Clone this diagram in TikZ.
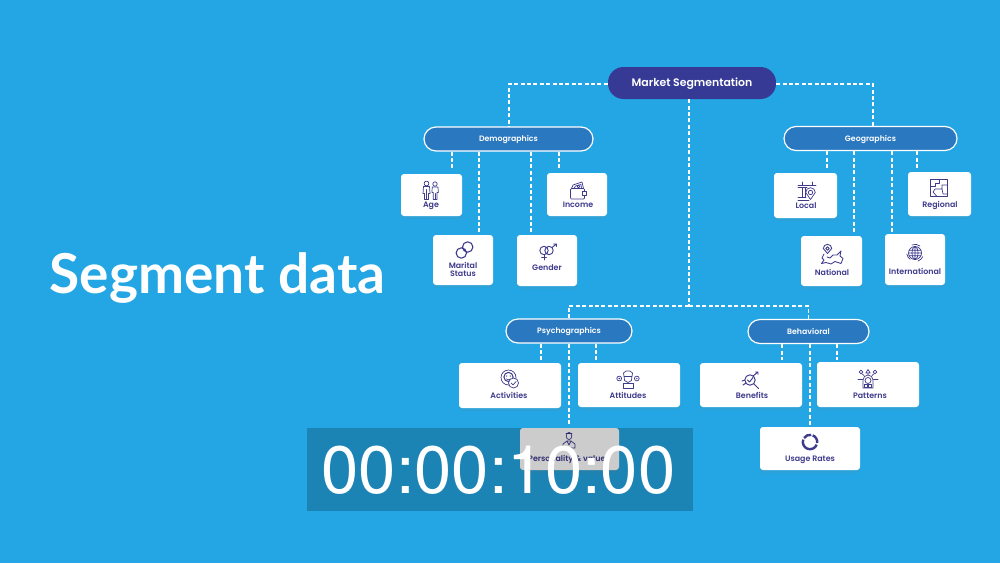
\documentclass[tikz,border=0pt]{standalone}
\usepackage{fontspec}
\usetikzlibrary{shadows}
\setmainfont{Poppins}[BoldFont=* SemiBold]
\setsansfont{TeX Gyre Heros}
\newfontfamily\headfont{Lato}[BoldFont=* Bold]
\definecolor{bgblue}{HTML}{23A6E3}
\definecolor{rootblue}{HTML}{373A95}
\definecolor{groupblue}{HTML}{2A78C0}
\definecolor{ink}{HTML}{3E3A8C}
\tikzset{
  x=1pt,y=-1pt,
  rootbox/.style={fill=rootblue,rounded corners=15.5pt,text=white,font=\bfseries\fontsize{10.9}{12}\selectfont,minimum height=32pt,inner sep=0pt,text height=7.6pt,text depth=0pt},
  groupbox/.style={fill=groupblue,draw=white,line width=1.2pt,rounded corners=12pt,text=white,font=\bfseries\fontsize{7.8}{9}\selectfont,minimum height=24pt,inner sep=0pt,text height=5.5pt,text depth=0pt},
  cardbox/.style={fill=white,rounded corners=3pt,inner sep=0pt,drop shadow={opacity=.1,shadow xshift=0pt,shadow yshift=-3pt}},
  cardtext/.style={text=ink,font=\bfseries\fontsize{7.9}{8.6}\selectfont,inner sep=0pt,text height=5.6pt,text depth=0pt},
  link/.style={draw=white,line width=1.25pt,dash pattern=on 4pt off 2.4pt},
  iconline/.style={draw=ink,line width=.7pt,line join=round,line cap=round},
}
\newcommand{\cardnode}[6]{\node[cardbox,minimum width=#4pt,minimum height=#5pt] (#1) at (#2,#3) {};\node[cardtext] (#1t) at (#6) }
\begin{document}
\begin{tikzpicture}
\useasboundingbox (0,0) rectangle (1000,563);
\fill[bgblue] (0,0) rectangle (1000,563);

% headline
\node[text=white,font=\headfont\bfseries\fontsize{55}{58}\selectfont,inner sep=0pt] (headline) at (217.5,278) {Segment data};

% hierarchy
\node[rootbox,minimum width=168pt] (root) at (692,83) {Market Segmentation};
\node[groupbox,minimum width=169pt] (dem) at (508.5,139) {Demographics};
\node[groupbox,minimum width=173pt] (geo) at (870.5,138.5) {Geographics};
\node[groupbox,minimum width=126pt] (psy) at (569,331) {Psychographics};
\node[groupbox,minimum width=121pt] (beh) at (808.5,331.5) {Behavioral};

% cards
\cardnode{age}{431.5}{195}{61}{42}{431,205} {Age};
\cardnode{inc}{577}{194.5}{60}{43}{578,205} {Income};
\cardnode{mar}{463}{260}{60}{50}{463,266} {Marital};
\node[cardtext] (mars) at (463,274) {Status};
\cardnode{gen}{547}{260.5}{60}{51}{547,268} {Gender};
\cardnode{loc}{805.5}{195.5}{63}{45}{806,206} {Local};
\cardnode{reg}{939.5}{194}{63}{44}{940,205} {Regional};
\cardnode{nat}{831.5}{261}{61}{50}{832,273} {National};
\cardnode{int}{915}{259.5}{60}{51}{915,272} {International};
\cardnode{act}{510}{385.5}{102}{45}{509,396} {Activities};
\cardnode{att}{629}{385}{102}{44}{628,396} {Attitudes};
\cardnode{per}{569.5}{449}{99}{42}{569,459} {Personality \& values};
\cardnode{ben}{751}{385}{102}{44}{752,396} {Benefits};
\cardnode{pat}{868}{384.5}{102}{45}{870,396} {Patterns};
\cardnode{usa}{810}{448.5}{100}{43}{810,459} {Usage Rates};

% connector ends
\coordinate (junc) at (689,306);
\coordinate (c1) at (452,170);\coordinate (c2) at (479,233);\coordinate (c3) at (531,233);\coordinate (c4) at (559,170);
\coordinate (g1) at (827,169);\coordinate (g2) at (854,233);\coordinate (g3) at (892,232);\coordinate (g4) at (917,169);
\coordinate (p1) at (541,362);\coordinate (p2) at (569,426);\coordinate (p3) at (596,362);
\coordinate (b1) at (782,360);\coordinate (b2) at (810,425);\coordinate (b3) at (837,360);
\coordinate (lx) at (509,84);\coordinate (rx) at (873,84);

\draw[link] (root.west |- lx) -- (lx) -- (lx |- dem.north);
\draw[link] (root.east |- rx) -- (rx) -- (rx |- geo.north);
\draw[link] (root.south -| junc) -- (junc);
\draw[link] (psy.north) |- (junc);
\draw[link] (beh.north) |- (junc);
\foreach \e in {c1,c2,c3,c4} \draw[link] (dem.south -| \e) -- (\e);
\foreach \e in {g1,g2,g3,g4} \draw[link] (geo.south -| \e) -- (\e);
\foreach \e in {p1,p2,p3} \draw[link] (psy.south -| \e) -- (\e);
\foreach \e in {b1,b2,b3} \draw[link] (beh.south -| \e) -- (\e);

% icons
\begin{scope}[shift={(431,190.5)},iconline] % age
  \draw (-4.5,-7) circle (2.4) (4,-6.5) circle (2.2);
  \draw (-8,3) -- (-7.5,-4) -- (-1.5,-4) -- (-1,3) -- (-2.5,3) -- (-2.5,9) -- (-6.5,9) -- (-6.5,3) -- cycle;
  \draw (1,2) -- (1.2,-3.5) -- (7,-3.5) -- (7.3,2) -- (6,2) -- (6,9) -- (2.2,9) -- (2.2,2) -- cycle;
  \draw (-4.5,-1) -- (-4.5,9) (4,3) -- (4,9);
\end{scope}
\begin{scope}[shift={(578,191)},iconline] % income
  \draw[rounded corners=1pt] (-7.5,-2.5) -- (-7.5,8) -- (6.5,8) -- (6.5,-2.5) -- cycle;
  \draw (-6.5,-2.5) -- (-5,-6) -- (4,-9) -- (5.5,-2.5);
  \draw (-4,-2.5) -- (-2.5,-5) -- (3,-6.5) -- (3.5,-2.5);
  \draw (0.5,-4.5) circle (1.4);
  \draw[fill=white] (4,0.5) rectangle (8.5,4.5);
\end{scope}
\begin{scope}[shift={(464.5,250)},iconline,line width=1.1pt] % marital
  \draw (-3.2,3) circle (5.2) (3.2,-3) circle (5.2);
\end{scope}
\begin{scope}[shift={(547.5,252)},iconline,line width=.9pt] % gender
  \draw (-3.5,-1.5) circle (4.2) (1.5,-1.5) circle (4.2);
  \draw (-3.5,2.7) -- (-3.5,8) (-6,5.5) -- (-1,5.5);
  \draw (4.5,-4.5) -- (9,-8) (6,-8) -- (9,-8) -- (9,-5.5);
\end{scope}
\begin{scope}[shift={(807,191)},iconline] % local
  \draw (-9,-6) -- (9,-6) (-9,-3.5) -- (0,-3.5) (-9,6.5) -- (-1,6.5) (-9,9) -- (2,9);
  \draw (-5,-9) -- (-5,-6) (5,-9) -- (5,-6) (-5,-3.5) -- (-5,6.5) (-2,-3.5) -- (-2,6.5);
  \draw[fill=white] (3.5,8.5) -- (-1.3,1.5) arc (180:360:4.8) -- cycle;
  \draw (3.5,1.5) circle (2.2);
\end{scope}
\begin{scope}[shift={(939,188)},iconline] % regional
  \draw (-8.5,-8.5) rectangle (8.5,8.5);
  \draw (-8.5,-2) -- (-4,-2) -- (-4,-5) -- (0,-5) -- (0,-8.5);
  \draw (8.5,-3) -- (3,-3) -- (3,1) -- (-4,1) -- (-6,4) -- (-2,8.5);
  \draw (3,1) -- (4,6) -- (8.5,6);
\end{scope}
\begin{scope}[shift={(832,255)},iconline,line width=.85pt] % national
  \draw (-4.5,-1.5) -- (-8.7,-6.5) arc (180:360:4.2) -- cycle;
  \draw (-4.5,-6.5) circle (1.8);
  \draw (-8,-1) -- (-10,3) -- (-8,5) -- (-10.5,8.5) -- (-6,7.5) -- (-1,9) -- (3,6.5) -- (9,8.5) -- (11,3.5) -- (8,1) -- (9,-4) -- (5,0) -- (1,0) -- (-2,3) -- (-5,2);
\end{scope}
\begin{scope}[shift={(915,253)},iconline] % international
  \draw (0,0) circle (6.5);
  \draw (0,0) ellipse (3 and 6.5) (-6.5,0) -- (6.5,0) (-6,-2.7) -- (6,-2.7) (-6,2.7) -- (6,2.7) (0,-6.5) -- (0,6.5);
  \draw (-3,-8) arc (-115:-50:7.5);
  \draw (-8.2,1) arc (170:125:8.2) (3,8) arc (70:25:8.4);
\end{scope}
\begin{scope}[shift={(510,379)},iconline] % activities
  \draw (-1.5,-1.5) circle (7.5);
  \draw[line width=1pt] (-1.5,-2) circle (4.6);
  \fill[ink] (-3.3,-3) circle (.7) (0.3,-3) circle (.7);
  \draw (-3.5,0) to[bend right=40] (0.5,0);
  \draw[fill=white] (3.5,4) circle (5);
  \draw (1.2,4) -- (3,6) -- (6,2.5);
\end{scope}
\begin{scope}[shift={(628,379)},iconline] % attitudes
  \draw (-3.8,-2.5) -- (-3.5,1.5) -- (0,3.5) -- (3.5,1.5) -- (3.8,-2.5);
  \draw (-4,-2.5) -- (-4.5,-6) -- (-2,-8) -- (2,-8) -- (4.5,-6) -- (4,-2.5) -- cycle;
  \draw (-5,9) -- (-5,4.5) -- (5,4.5) -- (5,9) -- cycle;
  \draw (-8.8,-0.5) circle (2.4) (8.8,-0.5) circle (2.4);
  \fill[ink] (-8.8,-0.5) circle (.8) (8.8,-0.5) circle (.8);
\end{scope}
\begin{scope}[shift={(569,441)},iconline] % personality
  \draw (0,-5) ellipse (2.8 and 3.6);
  \draw (-3,-8) -- (3,-8);
  \draw (-6,7) -- (-6,3) -- (-2,0) -- (2,0) -- (6,3) -- (6,7) -- cycle;
  \draw (-2,0) -- (0,4) -- (2,0);
\end{scope}
\begin{scope}[shift={(751,380)},iconline,line width=.95pt] % benefits
  \draw (-1,0) circle (5.2);
  \draw (2.7,3.7) -- (7.5,8.5);
  \draw (-3.5,0) -- (-1.5,2) -- (2,-2.5);
  \draw (2,-4) -- (7,-8) (4.5,-8) -- (7,-8) -- (7,-5.5);
  \draw (-6,0) -- (-9,1) (-5,3) -- (-8,5);
\end{scope}
\begin{scope}[shift={(868,379)},iconline] % patterns
  \draw (-10,0) -- (-5.5,0) (5.5,0) -- (10,0);
  \draw (-5,9) -- (-5,1) arc (180:360:5) -- (5,9) -- cycle;
  \draw (0,1.5) circle (3);
  \draw (-3.5,5.5) rectangle (-0.5,8.5) (0.5,5.5) rectangle (3.5,8.5);
  \draw (-7,-7) circle (1.8) (7,-7) circle (1.8);
  \draw (0,-9.5) -- (-2.2,-6) -- (2.2,-6) -- cycle;
  \draw (-6,-5.2) -- (-4,-3.5) (6,-5.2) -- (4,-3.5) (0,-6) -- (0,-4);
\end{scope}
\begin{scope}[shift={(810,442)},iconline,line width=2.4pt,line cap=butt] % usage
  \draw (-68:7.2) arc (-68:8:7.2);
  \draw (22:7.2) arc (22:200:7.2);
  \draw (214:7.2) arc (214:280:7.2);
\end{scope}

% timer overlay
\fill[black,opacity=.2] (307,428) rectangle (693,511);
\node[text=white,font=\sffamily\fontsize{67}{70}\selectfont,inner sep=0pt] (timer) at (498.5,470) {00:00:10:00};
\end{tikzpicture}
\end{document}
